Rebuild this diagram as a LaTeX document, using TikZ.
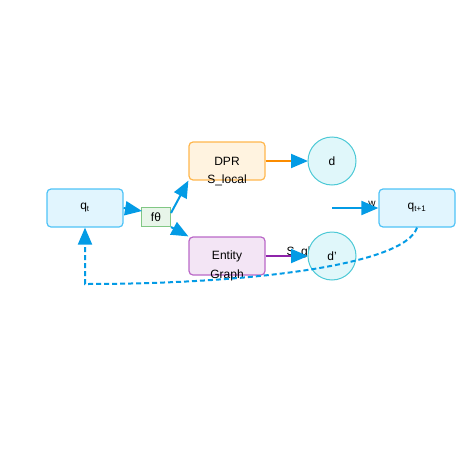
\documentclass[tikz,border=0pt]{standalone}
\usepackage{fontspec}
\setmainfont{Liberation Sans}
\usetikzlibrary{arrows.meta}
\definecolor{qfill}{HTML}{E1F5FE}
\definecolor{qdraw}{HTML}{4FC3F7}
\definecolor{dprfill}{HTML}{FFF3E0}
\definecolor{dprdraw}{HTML}{FFB74D}
\definecolor{entfill}{HTML}{F3E5F5}
\definecolor{entdraw}{HTML}{BA68C8}
\definecolor{ffill}{HTML}{E8F5E9}
\definecolor{fdraw}{HTML}{81C784}
\definecolor{docfill}{HTML}{E0F7FA}
\definecolor{docdraw}{HTML}{4DC9D6}
\definecolor{flow}{HTML}{039BE5}
\definecolor{orangeline}{HTML}{FB8C00}
\definecolor{purpleline}{HTML}{8E24AA}
\tikzset{
  qbox/.style={draw=qdraw,fill=qfill,rounded corners=4pt,line width=1.2pt,minimum width=76pt,minimum height=38pt,inner sep=0pt},
  retbox/.style={rounded corners=4pt,line width=1.2pt,minimum width=76pt,minimum height=38pt,inner sep=0pt},
  docnode/.style={circle,draw=docdraw,fill=docfill,line width=1pt,minimum size=48pt,inner sep=0pt},
  tip/.style={-{Triangle[length=17pt,width=14pt,color=flow]},line width=2pt},
}
\begin{document}
\begin{tikzpicture}[x=1pt,y=-1pt,font=\fontsize{12}{14}\selectfont]
\useasboundingbox (0,0) rectangle (474,474);
% query, encoder
\node[qbox] (qt) at (85,208) {q\textsubscript{t}};
\node[draw=fdraw,fill=ffill,line width=1pt,minimum width=29pt,minimum height=19pt,inner sep=0pt] (f) at (156,217) {fθ};
% retrievers
\node[retbox,draw=dprdraw,fill=dprfill,label={[yshift=-19pt]center:S\_local}] (dpr) at (227,161) {DPR};
\node[retbox,draw=entdraw,fill=entfill,label={[yshift=-19pt]center:Graph}] (ent) at (227,256) {Entity};
\node[qbox] (qnext) at (417,208) {q\textsubscript{t+1}};
\node[anchor=west] (slab) at (283,252) {S\_global};
\coordinate (wstart) at (332,208);
\node[font=\fontsize{10}{12}\selectfont] (wlab) at (372,204) {w};
% edges
\draw[tip,flow] (qt.east) -- (142,211);
\draw[tip,flow] (171,213) -- (dpr.south west);
\draw[tip,flow] (f.south east) -- (ent.north west);
\draw[tip,orangeline] (dpr.east) -- (308,161);
\draw[tip,purpleline] (ent.east) -- (308,256);
\node[docnode] (d) at (332,161) {d};
\node[docnode] (dd) at (332,256) {d'};
\draw[tip,flow] (wstart) -- (qnext.west);
\draw[tip,flow,dash pattern=on 5pt off 3pt]
  (qnext.south) .. controls (405,265) and (250,284) .. (85,284) -- (qt.south);
\end{tikzpicture}
\end{document}
